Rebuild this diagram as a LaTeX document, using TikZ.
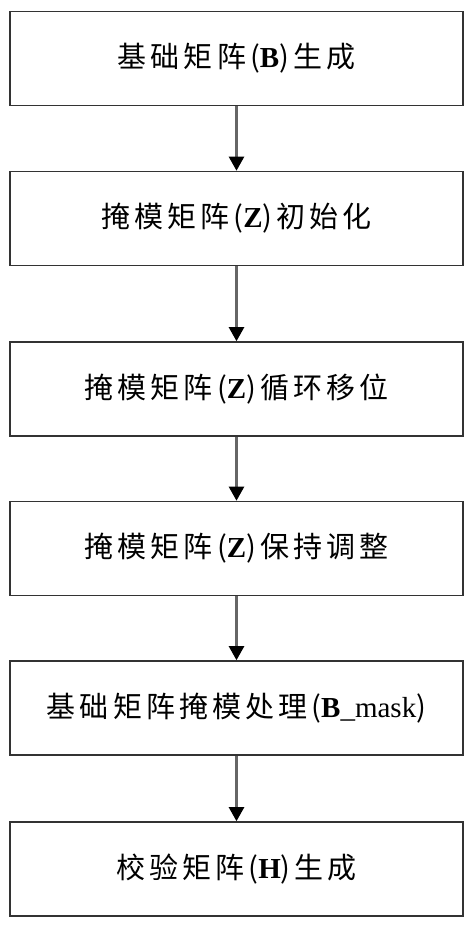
\documentclass[tikz,border=0pt]{standalone}
\usepackage{fontspec}
\setmainfont[LetterSpace=14]{Noto Sans CJK SC}
\newfontfamily\latin{Liberation Serif}
\usetikzlibrary{arrows.meta}

\begin{document}
\begin{tikzpicture}[x = 1pt, y = -1pt]

\tikzset{
step box/.style = {rectangle, line width = 1.6pt, draw = black!80, minimum width = 453pt, minimum height = 94pt, font = \fontsize{29}{32}\selectfont},
flow/.style = {-{Triangle[length = 14pt, width = 15pt, color = black]}, line width = 2.4pt, draw = black!60},
	}

\useasboundingbox (0, 0) rectangle (474, 929);

% Steps
\node at (236.5, 58.5) [step box] (B) {基础矩阵({\latin\bfseries B})生成};
\node at (236.5, 218.5) [step box] (Zinit) {掩模矩阵({\latin\bfseries Z})初始化};
\node at (236.5, 389) [step box] (Zshift) {掩模矩阵({\latin\bfseries Z})循环移位};
\node at (236.5, 548.5) [step box] (Zkeep) {掩模矩阵({\latin\bfseries Z})保持调整};
\node at (236.5, 708) [step box] (Bmask) {基础矩阵掩模处理({\latin\bfseries B}{\latin\_mask})};
\node at (236.5, 869) [step box] (H) {校验矩阵({\latin\bfseries H})生成};

% Flow
\path [flow] (B) edge [] (Zinit);
\path [flow] (Zinit) edge [] (Zshift);
\path [flow] (Zshift) edge [] (Zkeep);
\path [flow] (Zkeep) edge [] (Bmask);
\path [flow] (Bmask) edge [] (H);

\end{tikzpicture}
\end{document}
